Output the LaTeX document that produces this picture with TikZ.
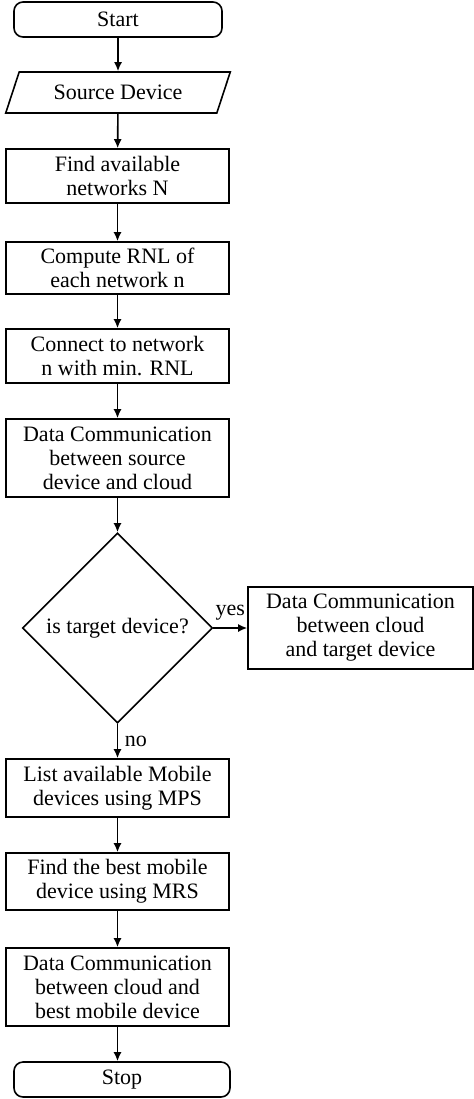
\documentclass[tikz,border=0pt]{standalone}
\usepackage{fontspec}
\setmainfont{Liberation Serif}
\usetikzlibrary{shapes.geometric, arrows.meta}

\begin{document}
\begin{tikzpicture}[-{Latex[length=4.5pt, width=4pt]}, auto, x = 1pt, y = 1pt, line width = 0.8pt,
font = \fontsize{11}{12}\selectfont,
term/.style = { rectangle, rounded corners = 4.5pt, draw, minimum height = 17.5pt},
io/.style = { trapezium, trapezium left angle = 71, trapezium right angle = 109,
trapezium stretches = true, draw, minimum width = 113pt, minimum height = 20.5pt},
block/.style = { rectangle, draw, align = center, minimum width = 111.5pt,
minimum height = 27pt, inner sep = 2.5pt},
decision/.style = { diamond, draw, aspect = 1, minimum size = 95pt, inner sep = 0pt},
arc_flow/.style = { color = black }]
\useasboundingbox (0,0) rectangle (237,-549.5);
\node[term, minimum width = 104pt] (start) at (59,-9.75) {Start};
\node[io] (source) at (59,-46.25) {Source Device};
\node[block] (find) at (58.75,-88) {Find available\\networks N};
\node[block, minimum height = 26pt] (rnl) at (58.75,-134) {Compute RNL of\\each network n};
\node[block] (connect) at (58.75,-178) {Connect to network\\n with min. RNL};
\node[block, minimum height = 39pt] (dcsrc) at (58.75,-229)
  {Data Communication\\between source\\device and cloud};
\node[decision] (target) at (58.75,-314) {is target device?};
\node[block, minimum width = 112.5pt, minimum height = 41pt] (dctgt) at (180.25,-314)
  {Data Communication\\between cloud\\and target device};
\node[block, minimum height = 29pt] (list) at (58.75,-394) {List available Mobile\\devices using MPS};
\node[block, minimum height = 28.5pt] (best) at (58.75,-440.75) {Find the best mobile\\device using MRS};
\node[block, minimum height = 39pt] (dcbest) at (58.75,-493.5)
  {Data Communication\\between cloud and\\best mobile device};
\node[term, minimum width = 108pt] (stop) at (61,-539.75) {Stop};
\path[arc_flow](start) edge (source);
\path[arc_flow](source) edge (find);
\path[arc_flow](find) edge (rnl);
\path[arc_flow](rnl) edge (connect);
\path[arc_flow](connect) edge (dcsrc);
\path[arc_flow](dcsrc) edge (target);
\path[arc_flow](target) edge node {yes} (dctgt);
\path[arc_flow](target) edge node {no} (list);
\path[arc_flow](list) edge (best);
\path[arc_flow](best) edge (dcbest);
\path[arc_flow](dcbest) edge (dcbest.south |- stop.north);
\end{tikzpicture}
\end{document}
